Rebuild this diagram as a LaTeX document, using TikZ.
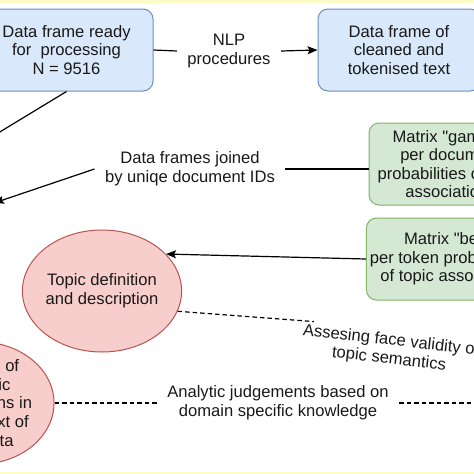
\documentclass[tikz,border=0pt]{standalone}
\usepackage{fontspec}
\newfontfamily\diagfont{Liberation Sans}
\usetikzlibrary{arrows,arrows.meta,shapes.geometric}
\definecolor{bluefill}{HTML}{DAE8FC}
\definecolor{blueline}{HTML}{6C8EBF}
\definecolor{greenfill}{HTML}{D5E8D4}
\definecolor{greenline}{HTML}{82B366}
\definecolor{redfill}{HTML}{F8CECC}
\definecolor{redline}{HTML}{B85450}
\definecolor{bandyellow}{HTML}{FDFBC8}

\begin{document}
\begin{tikzpicture}[x=1pt,y=-1pt,>={Stealth[length=10pt,width=8pt,inset=2pt]},line width=1.2pt,
                    font=\diagfont\fontsize{16.6}{18.6}\selectfont]
  \tikzstyle{frame}=[rectangle,rounded corners=10pt,draw=blueline,fill=bluefill,
                     align=center,minimum height=82pt,line width=1pt,text=black!90]
  \tikzstyle{matrixbox}=[frame,draw=greenline,fill=greenfill,minimum width=164pt]
  \tikzstyle{topicnode}=[ellipse,draw=redline,fill=redfill,align=center,inner sep=0pt,
                         minimum width=140pt,minimum height=122pt,line width=1pt,text=black!90]
  \tikzstyle{note}=[align=center,inner xsep=10pt,inner ysep=2pt,text=black!90]
  \tikzstyle{judgement}=[dash pattern=on 4.5pt off 3pt]

  \useasboundingbox (0,0) rectangle (474,474);
  \clip (0,0) rectangle (474,474);
  \fill[bandyellow] (0,0) rectangle (474,3);
  \fill[bandyellow] (0,472) rectangle (474,474);

  \node[frame,minimum width=173pt] (ready)     at (66.5,50)  {Data frame ready\\for\ \ processing\\N = 9516};
  \node[frame,minimum width=162pt] (tokenised) at (399,50)   {Data frame of\\cleaned and\\tokenised text};
  \node[matrixbox] (gamma)   at (451,164) {Matrix "gamma"\\per document\\probabilities of topic\\associations};
  \node[matrixbox] (beta)    at (451,259) {Matrix "beta"\\per token probabilities\\of topic association};
  \node[topicnode] (topicdef) at (102,291) {Topic definition\\and description};
  \node[topicnode] (analysis) at (-21,403) {Analysis of\\thematic\\distributions in\\the context of\\their data};

  \node[note] (nlp)    at (229,51)  {NLP\\procedures};
  \node[note] (joined) at (190,169) {Data frames joined\\by uniqe document IDs};
  \node[note,rotate=-6.5] (assess) at (390,350) {Assesing face validity of\\topic semantics};
  \node[note] (judge)  at (278,403) {Analytic judgements based on\\domain specific knowledge};

  \coordinate (leftA) at (-20,144);
  \coordinate (leftB) at (-6,203);
  \coordinate (rightC) at (480,403);

  \path
(ready.east)    edge                 (nlp.west)
(nlp.east)      edge [->]            (tokenised.west)
(ready.south)   edge                 (leftA)
(gamma.west |- joined.east) edge     (joined.east)
(joined.west)   edge [->]            (leftB)
(beta.west)     edge [->]            (topicdef.30)
(topicdef.-15)  edge [judgement]     (assess.166)
(analysis.east) edge [judgement]     (judge.west)
(judge.east)    edge [judgement]     (rightC)
;

\end{tikzpicture}
\end{document}
